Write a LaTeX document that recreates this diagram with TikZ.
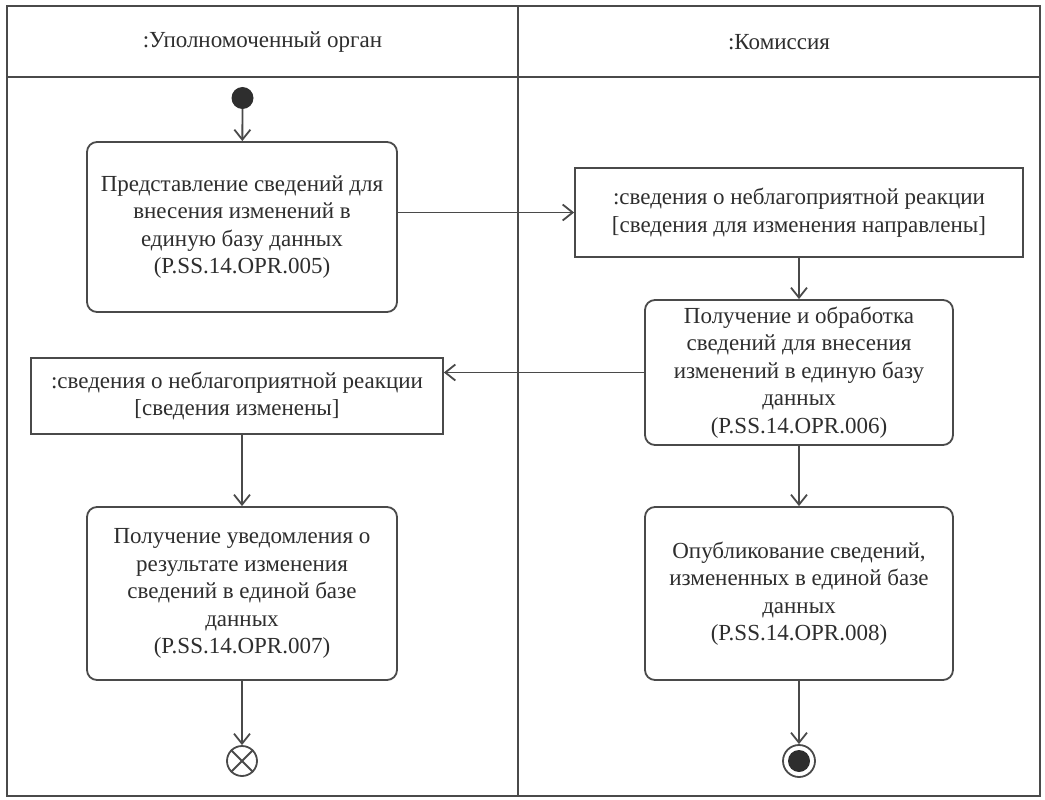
\documentclass[tikz,border=0pt]{standalone}
\usepackage{fontspec}
\setmainfont{Liberation Serif}
\usetikzlibrary{arrows.meta}
\definecolor{linec}{HTML}{4A4A4A}
\definecolor{textc}{HTML}{2E2E2E}
\begin{document}
\begin{tikzpicture}[x=1pt,y=-1pt,
  every node/.style={font=\fontsize{23}{27.5}\selectfont, text=textc},
  frame/.style={draw=linec, line width=2pt},
  actbox/.style={draw=linec, line width=1.8pt, rounded corners=10pt, align=center, inner sep=0pt},
  objbox/.style={draw=linec, line width=1.8pt, align=center, inner sep=0pt},
  flow/.style={draw=linec, line width=1.8pt, -{Straight Barb[length=10pt,width=16pt,line width=1.8pt]}}
]
\useasboundingbox (0,0) rectangle (1045,800);
\fill[white] (0,0) rectangle (1045,800);
% swimlanes
\draw[frame] (7,6) rectangle (1040,796);
\draw[frame] (7,77) -- (1040,77);
\draw[frame] (518,6) -- (518,796);
\node (lane1) at (262.5,42) {:Уполномоченный орган};
\node (lane2) at (779,42) {:Комиссия};
% nodes
\node[circle, fill=textc, minimum size=22pt, inner sep=0pt] (start) at (242.5,98) {};
\node[actbox, minimum width=310pt, minimum height=170pt] (box1) at (242,227)
  {Представление сведений для\\внесения изменений в\\единую базу данных\\(P.SS.14.OPR.005)};
\node[objbox, minimum width=448pt, minimum height=89pt] (obj1) at (799,212.5)
  {:сведения о неблагоприятной реакции\\{[}сведения для изменения направлены{]}};
\node[actbox, minimum width=308pt, minimum height=145pt] (box2) at (799,372.5)
  {Получение и обработка\\сведений для внесения\\изменений в единую базу\\данных\\(P.SS.14.OPR.006)};
\node[objbox, minimum width=412pt, minimum height=76pt] (obj2) at (237,396)
  {:сведения о неблагоприятной реакции\\{[}сведения изменены{]}};
\node[actbox, minimum width=310pt, minimum height=173pt] (box3) at (242,593.5)
  {Получение уведомления о\\результате изменения\\сведений в единой базе\\данных\\(P.SS.14.OPR.007)};
\node[actbox, minimum width=308pt, minimum height=173pt] (box4) at (799,593.5)
  {Опубликование сведений,\\измененных в единой базе\\данных\\(P.SS.14.OPR.008)};
\node[circle, draw=linec, line width=1.8pt, minimum size=30pt, inner sep=0pt] (endL) at (242,761) {};
\draw[linec, line width=1.8pt] (endL.north east) -- (endL.south west);
\draw[linec, line width=1.8pt] (endL.north west) -- (endL.south east);
\node[circle, draw=linec, line width=1.8pt, minimum size=32pt, inner sep=0pt] (endR) at (799,761) {};
\node[circle, fill=textc, minimum size=22pt, inner sep=0pt] (endRin) at (endR.center) {};
% flows
\draw[flow] (start) -- (box1);
\draw[flow] (box1.east |- obj1.west) -- (obj1.west);
\draw[flow] (obj1) -- (box2);
\draw[flow] (box2.west) -- (box2.west -| obj2.east);
\draw[flow] (box2) -- (box4);
\draw[flow] (obj2.south -| box3.north) -- (box3.north);
\draw[flow] (box3) -- (endL);
\draw[flow] (box4) -- (endR);
\end{tikzpicture}
\end{document}
